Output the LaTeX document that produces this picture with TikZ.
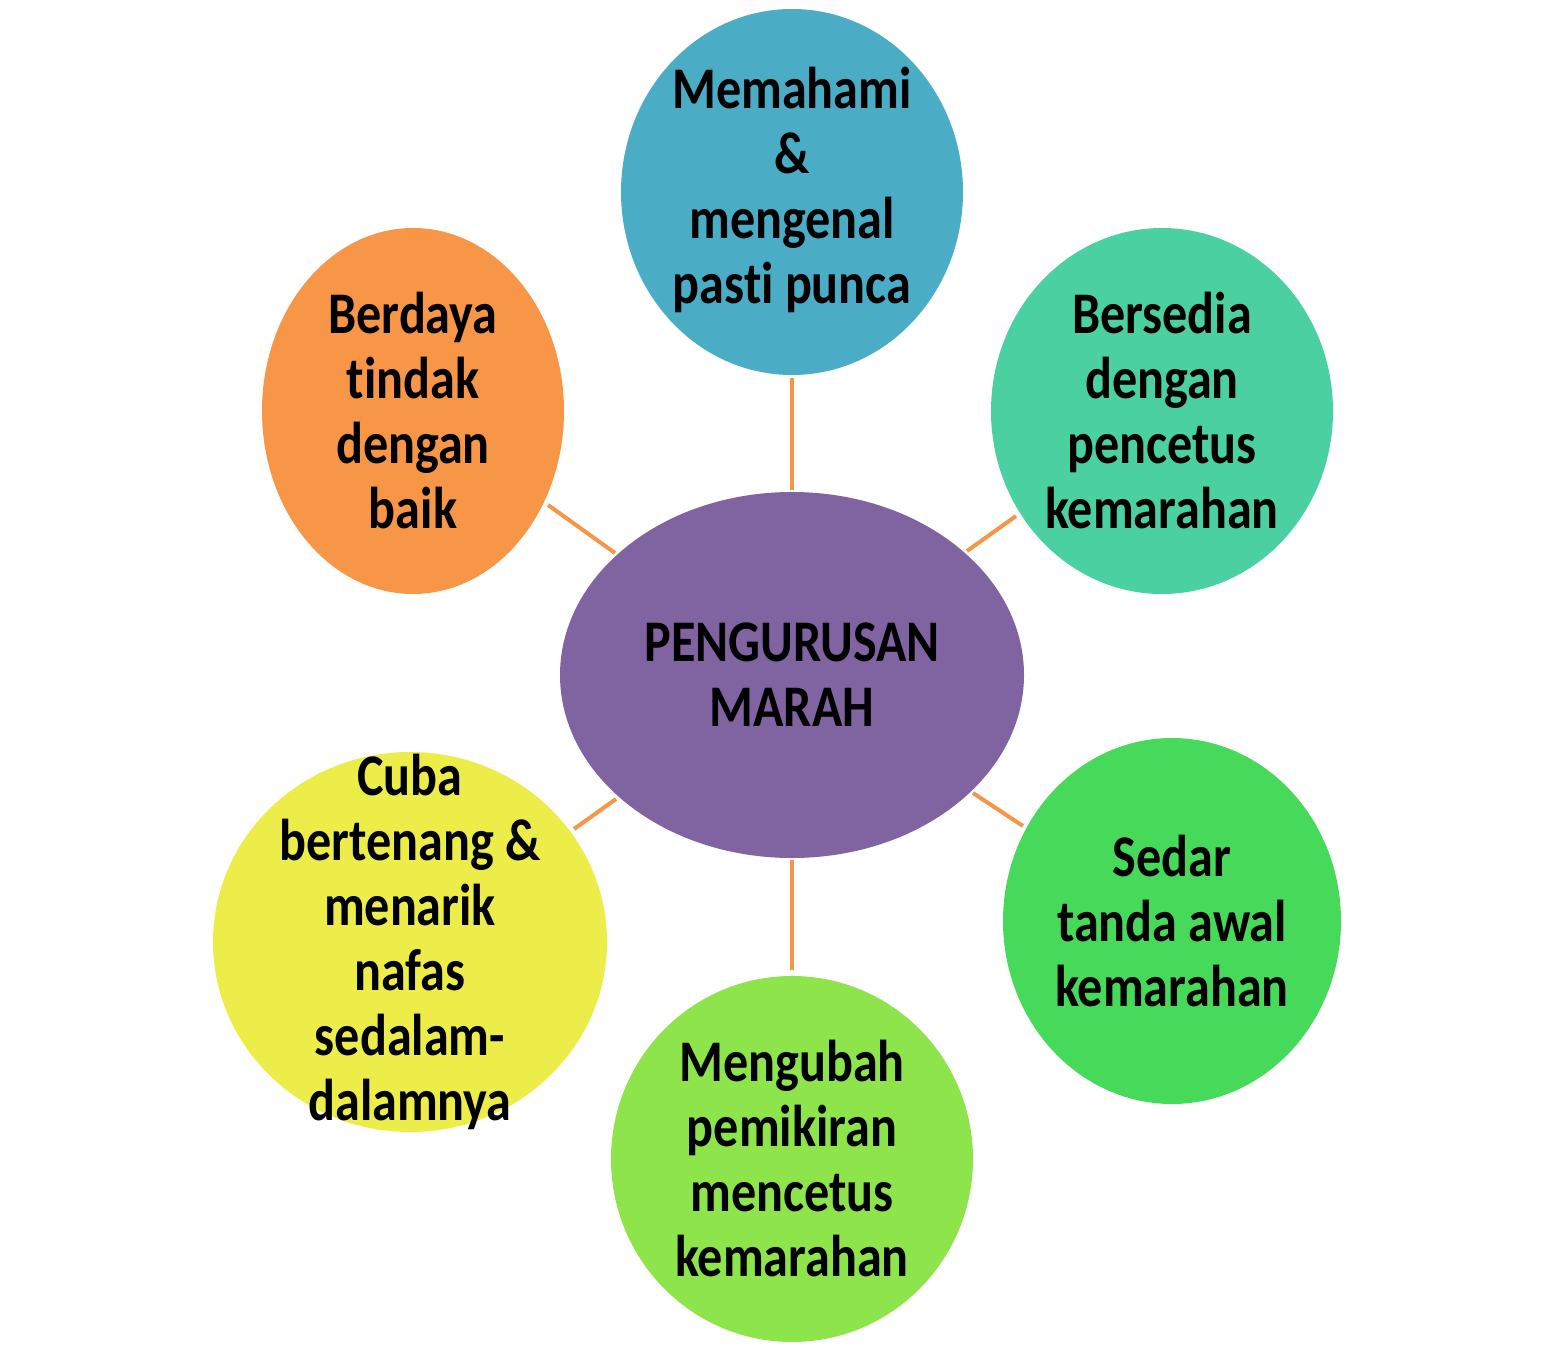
\documentclass[tikz,border=0pt]{standalone}
\usepackage{fontspec}
\setmainfont{Carlito}[FakeStretch=0.85, Ligatures=NoCommon]
\definecolor{cblue}{HTML}{4BACC6}
\definecolor{corange}{HTML}{F79646}
\definecolor{cpurple}{HTML}{8064A2}
\definecolor{cteal}{HTML}{4BD0A2}
\definecolor{cgreen}{HTML}{47D95A}
\definecolor{clime}{HTML}{8EE54B}
\definecolor{cyellow}{HTML}{EDED4A}
\begin{document}
\begin{tikzpicture}[x=1pt,y=-1pt,
  lbl/.style={font=\fontsize{59}{65}\selectfont\bfseries, align=center, inner sep=0pt, text=black},
  link/.style={draw=corange, line width=4pt}]
\useasboundingbox (0,0) rectangle (1558,1351);
\fill[white] (0,0) rectangle (1558,1351);
\def\bub#1#2#3#4#5{\fill[#5] (#1,#2) ellipse [x radius=#3, y radius=#4];}
% shapes
\bub{792}{192}{171}{183}{cblue}
\bub{413}{411}{151}{183}{corange}
\bub{1162}{411}{171}{183}{cteal}
\bub{792}{675}{232}{183}{cpurple}
\bub{1172}{921}{169}{183}{cgreen}
\bub{792}{1159}{181}{183}{clime}
\bub{410}{942}{197}{190}{cyellow}
% nodes (text)
\node[lbl] (top) at (792,190) {Memahami\\\&\\mengenal\\pasti punca};
\node[lbl] (ul) at (413,411) {Berdaya\\tindak\\dengan\\baik};
\node[lbl] (ur) at (1162,411) {Bersedia\\dengan\\pencetus\\kemarahan};
\node[lbl] (c) at (792,675) {PENGURUSAN\\MARAH};
\node[lbl] (lr) at (1172,921) {Sedar\\tanda awal\\kemarahan};
\node[lbl] (bot) at (792,1159) {Mengubah\\pemikiran\\mencetus\\kemarahan};
\node[lbl] (ll) at (410,942) {Cuba\\bertenang \&\\menarik\\nafas\\sedalam-\\dalamnya};
% connector endpoints
\coordinate (t1) at (792,378); \coordinate (t2) at (792,490);
\coordinate (a1) at (548,505); \coordinate (a2) at (615,553);
\coordinate (b1) at (1016,516); \coordinate (b2) at (967,551);
\coordinate (d1) at (973,793); \coordinate (d2) at (1023,826);
\coordinate (e1) at (792,860); \coordinate (e2) at (792,970);
\coordinate (f1) at (574,829); \coordinate (f2) at (616,799);
\draw[link] (t1) -- (t2);
\draw[link] (a1) -- (a2);
\draw[link] (b1) -- (b2);
\draw[link] (d1) -- (d2);
\draw[link] (e1) -- (e2);
\draw[link] (f1) -- (f2);
\end{tikzpicture}
\end{document}
